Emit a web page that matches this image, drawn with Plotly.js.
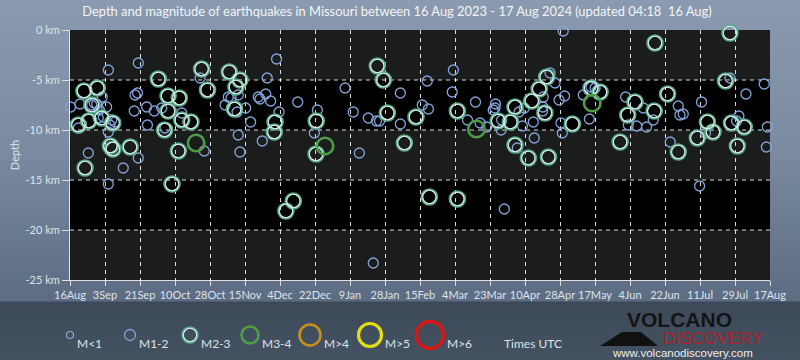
<!DOCTYPE html>
<html>
<head>
<meta charset="utf-8">
<script src="https://cdn.plot.ly/plotly-3.0.1.min.js"></script>
<style>
html,body{margin:0;padding:0;}
body{width:800px;height:360px;overflow:hidden;
background:linear-gradient(to bottom,#8a9ab0 0px,#7a8aa1 150px,#5c6c83 301px,#3d4959 302px,#445262 360px);}
#chart{width:800px;height:360px;}
</style>
</head>
<body>
<div id="chart"></div>
<script>
// ---- data (days after 16 Aug 2023 00:00 UTC, depth in km) ----
const tickLabels = ['16Aug','3Sep','21Sep','10Oct','28Oct','15Nov','4Dec','22Dec','9Jan','28Jan','15Feb','4Mar','23Mar','10Apr','28Apr','17May','4Jun','22Jun','11Jul','29Jul','17Aug'];
const depthTicks = [0,-5,-10,-15,-20,-25];
const depthLabels = ['0 km','-5 km','-10 km','-15 km','-20 km','-25 km'];

const m12Day = [35.8,20.1,68.2,34.1,35.4,0.3,5.2,11.4,12.7,14.0,
16.9,15.4,19.2,17.5,21.9,23.6,20.1,4.4,33.7,40.2,
44.2,48.1,40.6,49.8,58.6,9.6,35.8,27.9,20.1,70.4,
108.3,103.4,144.2,83.0,84.4,88.2,98.7,99.6,102.6,105.2,
119.4,81.3,92.1,87.6,94.7,109.6,88.2,100.8,89.1,129.7,
128.1,148.5,173.2,187.3,201.0,200.4,156.4,160.7,162.3,173.2,
184.7,187.9,151.7,212.6,208.4,215.0,218.5,159.0,258.6,251.7,
254.3,248.1,256.4,259.3,223.1,222.8,221.9,238.2,247.9,226.3,
226.0,237.2,242.9,257.4,258.1,243.4,234.5,227.7,273.2,275.3,
269.1,272.3,291.3,292.7,346.0,364.0,354.4,331.1,300.6,318.9,
319.8,321.5,305.8,297.1,302.3,333.2,350.7,349.5,365.6,314.7,
365.1,330.1,247.8,14.8,20.9,235.4];
const m12Depth = [-3.3,-4.0,-4.8,-6.5,-6.3,-7.7,-7.4,-7.5,-7.3,-7.4,
-6.7,-8.0,-7.7,-8.7,-9.0,-9.2,-10.2,-9.8,-8.1,-7.7,
-8.1,-7.8,-9.5,-9.8,-8.3,-12.3,-12.8,-13.8,-15.4,-12.1,
-2.9,-4.8,-5.8,-6.7,-6.8,-6.5,-6.7,-6.9,-6.4,-7.1,
-7.2,-7.5,-7.8,-8.2,-9.2,-8.2,-10.5,-11.1,-12.2,-8.0,
-10.3,-8.2,-6.3,-5.1,-4.0,-6.2,-8.8,-9.1,-9.1,-9.4,
-7.5,-7.9,-12.3,-7.2,-9.0,-9.3,-9.7,-23.3,-0.1,-4.3,
-5.3,-6.7,-7.0,-6.6,-7.4,-7.8,-8.0,-7.8,-7.7,-9.0,
-10.0,-9.6,-9.2,-9.3,-10.3,-10.8,-11.8,-17.9,-5.7,-5.8,
-6.5,-8.9,-6.7,-9.5,-4.8,-5.4,-6.4,-7.2,-7.8,-7.6,
-8.5,-8.4,-9.0,-9.6,-9.7,-10.3,-8.6,-9.1,-9.7,-11.2,
-11.7,-15.6,-8.1,-8.8,-9.5,-8.2];

const m23Day = [69.0,46.3,14.3,7.3,51.4,57.3,72.1,11.5,51.4,4.4,
9.8,16.6,22.4,58.6,63.4,49.6,21.2,22.5,31.5,56.8,
7.9,53.5,83.5,89.1,87.0,86.2,107.5,107.1,129.1,129.0,
117.1,113.2,161.1,164.3,166.4,181.4,175.3,203.1,188.4,203.1,
249.9,246.0,242.1,233.3,249.0,224.5,230.9,263.4,233.3,240.3,
250.8,273.2,277.9,288.4,292.4,296.2,306.3,313.3,306.7,346.0,
343.7,334.2,337.1,328.9,346.8,353.5,349.9,318.9];
const m23Depth = [-3.9,-4.9,-5.8,-6.1,-6.6,-6.8,-6.0,-7.5,-8.1,-9.5,
-9.1,-8.8,-9.3,-9.0,-9.2,-10.0,-11.6,-11.9,-11.7,-12.1,
-13.8,-15.4,-4.2,-5.0,-5.7,-7.9,-9.2,-10.2,-9.1,-12.4,
-17.1,-18.1,-3.6,-5.0,-8.3,-8.7,-11.3,-8.1,-16.7,-16.9,
-4.7,-5.9,-7.1,-7.7,-8.3,-9.1,-9.2,-9.4,-11.5,-12.8,
-12.7,-5.8,-6.2,-11.2,-8.5,-7.2,-8.1,-6.4,-1.3,-0.3,
-5.1,-9.2,-10.2,-10.8,-9.3,-9.7,-11.6,-12.2];

const m34Day = [66.1,133.7,213.1,273.8];
const m34Depth = [-11.3,-11.6,-9.9,-7.3];

const legendLabels = ['M<1','M1-2','M2-3','M3-4','M>4','M>5','M>6'];
const legendColors = ['#8ea8d8','#85a4da','#58a98c','#4e9c48','#c8901c','#e2de14','#d81818'];

// ---- helpers ----
const START = Date.UTC(2023,7,16);
const SPAN_DAYS = 367;
const DAY = 86400000;
function toDate(d){ return new Date(START + d*DAY).toISOString().replace('T',' ').replace('Z',''); }
// pixel -> paper helpers for decorations outside the plot area
const L=70, R=770, T=30, B=280;
const px = x => (x-L)/(R-L);
const py = y => (B-y)/(B-T);

const FONT = "Lato, 'DejaVu Sans', sans-serif";
const TXT = '#dfe3ea';

function ring(xs, ys, size, color, width){
  return {type:'scatter', mode:'markers', x: xs.map(toDate), y: ys, cliponaxis:false,
    hoverinfo:'skip', showlegend:false,
    marker:{symbol:'circle', size:size, color:'rgba(0,0,0,0)', line:{color:color, width:width}}};
}

const traces = [
  ring(m12Day, m12Depth, 10, legendColors[1], 1.3),
  ring(m23Day, m23Depth, 15, legendColors[2], 2.6),
  ring(m23Day, m23Depth, 13.4, '#dcefe8', 1.1),
  ring(m34Day, m34Depth, 16.5, legendColors[3], 2.6)
];

const tickvals = tickLabels.map((_,i)=>toDate(i*SPAN_DAYS/(tickLabels.length-1)));

const shapes = [];
// background stripes
[[0,-5],[-10,-15],[-20,-25]].forEach(([a,b])=>shapes.push({type:'rect',xref:'paper',yref:'y',x0:0,x1:1,y0:a,y1:b,
  fillcolor:'#1b1c1c',line:{width:0},layer:'below'}));
// horizontal dashed grid
[-5,-10,-15,-20].forEach(v=>shapes.push({type:'line',xref:'paper',yref:'y',x0:0,x1:1,y0:v,y1:v,
  line:{color:'rgba(255,255,255,0.85)',width:1,dash:'4px,4px'},layer:'below'}));

// legend circles
const legX = [70,130,190,250,310,370,430];
const legD = [7,11,15,17,21,23,27];
const legW = [1.2,1.3,2.6,2.6,2.6,3.2,3.6];
const annotations = [];
legendLabels.forEach((lab,i)=>{
  const r = legD[i]/2;
  shapes.push({type:'circle',xref:'paper',yref:'paper',xsizemode:'pixel',ysizemode:'pixel',
    xanchor:px(legX[i]),yanchor:py(335),x0:-r,x1:r,y0:-r,y1:r,
    line:{color:legendColors[i],width:legW[i]},fillcolor:'rgba(0,0,0,0)'});
  if(i===2){
    shapes.push({type:'circle',xref:'paper',yref:'paper',xsizemode:'pixel',ysizemode:'pixel',
      xanchor:px(legX[i]),yanchor:py(335),x0:-r+0.8,x1:r-0.8,y0:-r+0.8,y1:r-0.8,
      line:{color:'#dcefe8',width:1.1},fillcolor:'rgba(0,0,0,0)'});
  }
  annotations.push({xref:'paper',yref:'paper',x:px(legX[i]+r+1),y:py(343),xanchor:'left',yanchor:'middle',
    text:lab,showarrow:false,font:{family:FONT,size:12,color:TXT}});
});
annotations.push({xref:'paper',yref:'paper',x:px(502),y:py(343),xanchor:'left',yanchor:'middle',
  text:'Times UTC',showarrow:false,font:{family:FONT,size:12,color:TXT}});

// logo
shapes.push({type:'path',xref:'paper',yref:'paper',
  path:`M${px(600)},${py(346)} L${px(622)},${py(332)} L${px(641)},${py(332)} L${px(658)},${py(346)} Z`,
  fillcolor:'#111',line:{width:0}});
annotations.push({xref:'paper',yref:'paper',x:px(679),y:py(319),xanchor:'center',yanchor:'middle',
  text:'<b>VOLCANO</b>',showarrow:false,font:{family:"'Liberation Sans', Arial, sans-serif",size:21,color:'#141414'}});
annotations.push({xref:'paper',yref:'paper',x:px(713),y:py(338.5),xanchor:'center',yanchor:'middle',
  text:'DISCOVERY',showarrow:false,font:{family:"'Liberation Sans', Arial, sans-serif",size:17,color:'#b21f2a'}});
annotations.push({xref:'paper',yref:'paper',x:px(682),y:py(352.5),xanchor:'center',yanchor:'middle',
  text:'www.volcanodiscovery.com',showarrow:false,font:{family:"'Liberation Sans', Arial, sans-serif",size:11.5,color:'#eeeeee'}});

const layout = {
  width:800, height:360,
  margin:{l:70,r:30,t:30,b:80,pad:0},
  paper_bgcolor:'rgba(0,0,0,0)',
  plot_bgcolor:'#000000',
  font:{family:FONT,color:TXT},
  title:{text:'Depth and magnitude of earthquakes in Missouri between 16 Aug 2023 - 17 Aug 2024 (updated 04:18  16 Aug)',
    font:{family:FONT,size:12.9,color:'#f4f4f4'},xref:'container',x:397/800,xanchor:'center',
    yref:'container',y:1-11/360,yanchor:'middle'},
  showlegend:false,
  xaxis:{type:'date',range:[toDate(0),toDate(SPAN_DAYS)],tickmode:'array',tickvals:tickvals,ticktext:tickLabels,
    ticks:'outside',ticklen:5,tickcolor:'#e0e0e0',showline:true,linecolor:'#e0e0e0',linewidth:1,
    showgrid:true,gridcolor:'rgba(255,255,255,0.85)',griddash:'4px,4px',gridwidth:1,zeroline:false,
    tickfont:{family:FONT,size:11,color:TXT},fixedrange:true},
  yaxis:{range:[-25,0],tickmode:'array',tickvals:depthTicks,ticktext:depthLabels,
    ticks:'outside',ticklen:7,tickcolor:'#e0e0e0',showline:true,linecolor:'#e0e0e0',linewidth:1,
    showgrid:false,zeroline:false,tickfont:{family:FONT,size:11,color:TXT},
    title:{text:'Depth',font:{family:FONT,size:11,color:TXT},standoff:3},fixedrange:true},
  shapes:shapes,
  annotations:annotations
};

Plotly.newPlot('chart', traces, layout, {displayModeBar:false, staticPlot:true});
</script>
</body>
</html>
